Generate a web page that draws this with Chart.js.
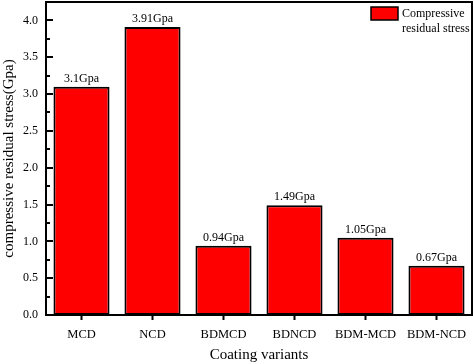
<!DOCTYPE html>
<html>
<head>
<meta charset="utf-8">
<script src="https://cdn.jsdelivr.net/npm/chart.js@4/dist/chart.umd.min.js"></script>
<style>
  html, body { margin: 0; padding: 0; background: #fff; }
  #wrap { width: 474px; height: 364px; }
</style>
</head>
<body>
<div id="wrap"><canvas id="stressChart" width="474" height="364"></canvas></div>
<script>
// Data
const categories = ['MCD', 'NCD', 'BDMCD', 'BDNCD', 'BDM-MCD', 'BDM-NCD'];
const stressValues = [3.1, 3.91, 0.94, 1.49, 1.05, 0.67];
const valueLabels = ['3.1Gpa', '3.91Gpa', '0.94Gpa', '1.49Gpa', '1.05Gpa', '0.67Gpa'];
const yTickValues = [0, 0.5, 1.0, 1.5, 2.0, 2.5, 3.0, 3.5, 4.0];
const legendLines = ['Compressive', 'residual stress'];

const serif = '"Liberation Serif", "Times New Roman", serif';

// Frame, inward y ticks, bar value labels and the legend box
const decorPlugin = {
    id: 'decor',
    afterDraw(chart) {
        const ctx = chart.ctx;
        const area = chart.chartArea;
        const y = chart.scales.y;
        ctx.save();

        // inward ticks on the left axis (major every 0.5, minor every 0.25)
        ctx.strokeStyle = '#000';
        ctx.lineWidth = 2;
        for (let v = 0.25; v <= 4.0001; v += 0.25) {
            const py = Math.round(y.getPixelForValue(v));
            const major = Math.abs(v * 2 - Math.round(v * 2)) < 1e-6;
            ctx.beginPath();
            ctx.moveTo(area.left, py);
            ctx.lineTo(area.left + (major ? 7 : 4), py);
            ctx.stroke();
        }

        // box around the plot
        ctx.strokeRect(area.left, area.top, area.right - area.left, area.bottom - area.top);

        // value labels above bars
        const meta = chart.getDatasetMeta(0);
        ctx.fillStyle = '#000';
        ctx.font = '12px ' + serif;
        ctx.textAlign = 'center';
        ctx.textBaseline = 'alphabetic';
        meta.data.forEach((bar, i) => {
            ctx.fillText(valueLabels[i], bar.x, bar.y - 5);
        });

        // legend
        const lx = area.right - 101;
        const ly = area.top + 5;
        ctx.fillStyle = '#ff0000';
        ctx.fillRect(lx, ly, 27, 13);
        ctx.lineWidth = 1.5;
        ctx.strokeRect(lx, ly, 27, 13);
        ctx.fillStyle = '#000';
        ctx.textAlign = 'left';
        ctx.textBaseline = 'middle';
        ctx.font = '12px ' + serif;
        ctx.fillText(legendLines[0], lx + 31, ly + 7);
        ctx.fillText(legendLines[1], lx + 31, ly + 22);

        ctx.restore();
    }
};

new Chart(document.getElementById('stressChart'), {
    type: 'bar',
    data: {
        labels: categories,
        datasets: [{
            label: 'Compressive residual stress',
            data: stressValues,
            backgroundColor: '#ff0000',
            borderColor: '#000',
            borderWidth: 2,
            borderSkipped: false,
            categoryPercentage: 1.0,
            barPercentage: 0.79
        }]
    },
    options: {
        responsive: false,
        animation: false,
        devicePixelRatio: 1,
        layout: { padding: { top: 2, right: 2, left: 0, bottom: 0 } },
        plugins: {
            legend: { display: false },
            tooltip: { enabled: false }
        },
        scales: {
            x: {
                grid: {
                    display: true,
                    offset: false,
                    drawOnChartArea: false,
                    drawTicks: true,
                    tickLength: 5,
                    tickColor: '#000',
                    tickWidth: 2
                },
                border: { display: true, color: '#000', width: 2 },
                ticks: {
                    color: '#000',
                    font: { family: serif, size: 12.5 },
                    padding: 7,
                    maxRotation: 0,
                    autoSkip: false
                },
                title: {
                    display: true,
                    text: 'Coating variants',
                    color: '#000',
                    font: { family: serif, size: 15 },
                    padding: { top: 2, bottom: 0 }
                },
                afterFit(scale) {
                    scale.height = 49;
                    scale.paddingLeft = 0;
                    scale.paddingRight = 0;
                }
            },
            y: {
                min: 0,
                max: 4.25,
                grid: { display: false, drawTicks: false },
                border: { display: true, color: '#000', width: 2 },
                afterBuildTicks(scale) {
                    scale.ticks = yTickValues.map(v => ({ value: v }));
                },
                ticks: {
                    color: '#000',
                    font: { family: serif, size: 12 },
                    padding: 8,
                    callback: v => Number(v).toFixed(1)
                },
                title: {
                    display: true,
                    text: 'compressive residual stress(Gpa)',
                    color: '#000',
                    font: { family: serif, size: 15 },
                    padding: { top: 0, bottom: 4 }
                },
                afterFit(scale) {
                    scale.width = 46;
                    scale.paddingTop = 0;
                    scale.paddingBottom = 0;
                }
            }
        }
    },
    plugins: [decorPlugin]
});
</script>
</body>
</html>
